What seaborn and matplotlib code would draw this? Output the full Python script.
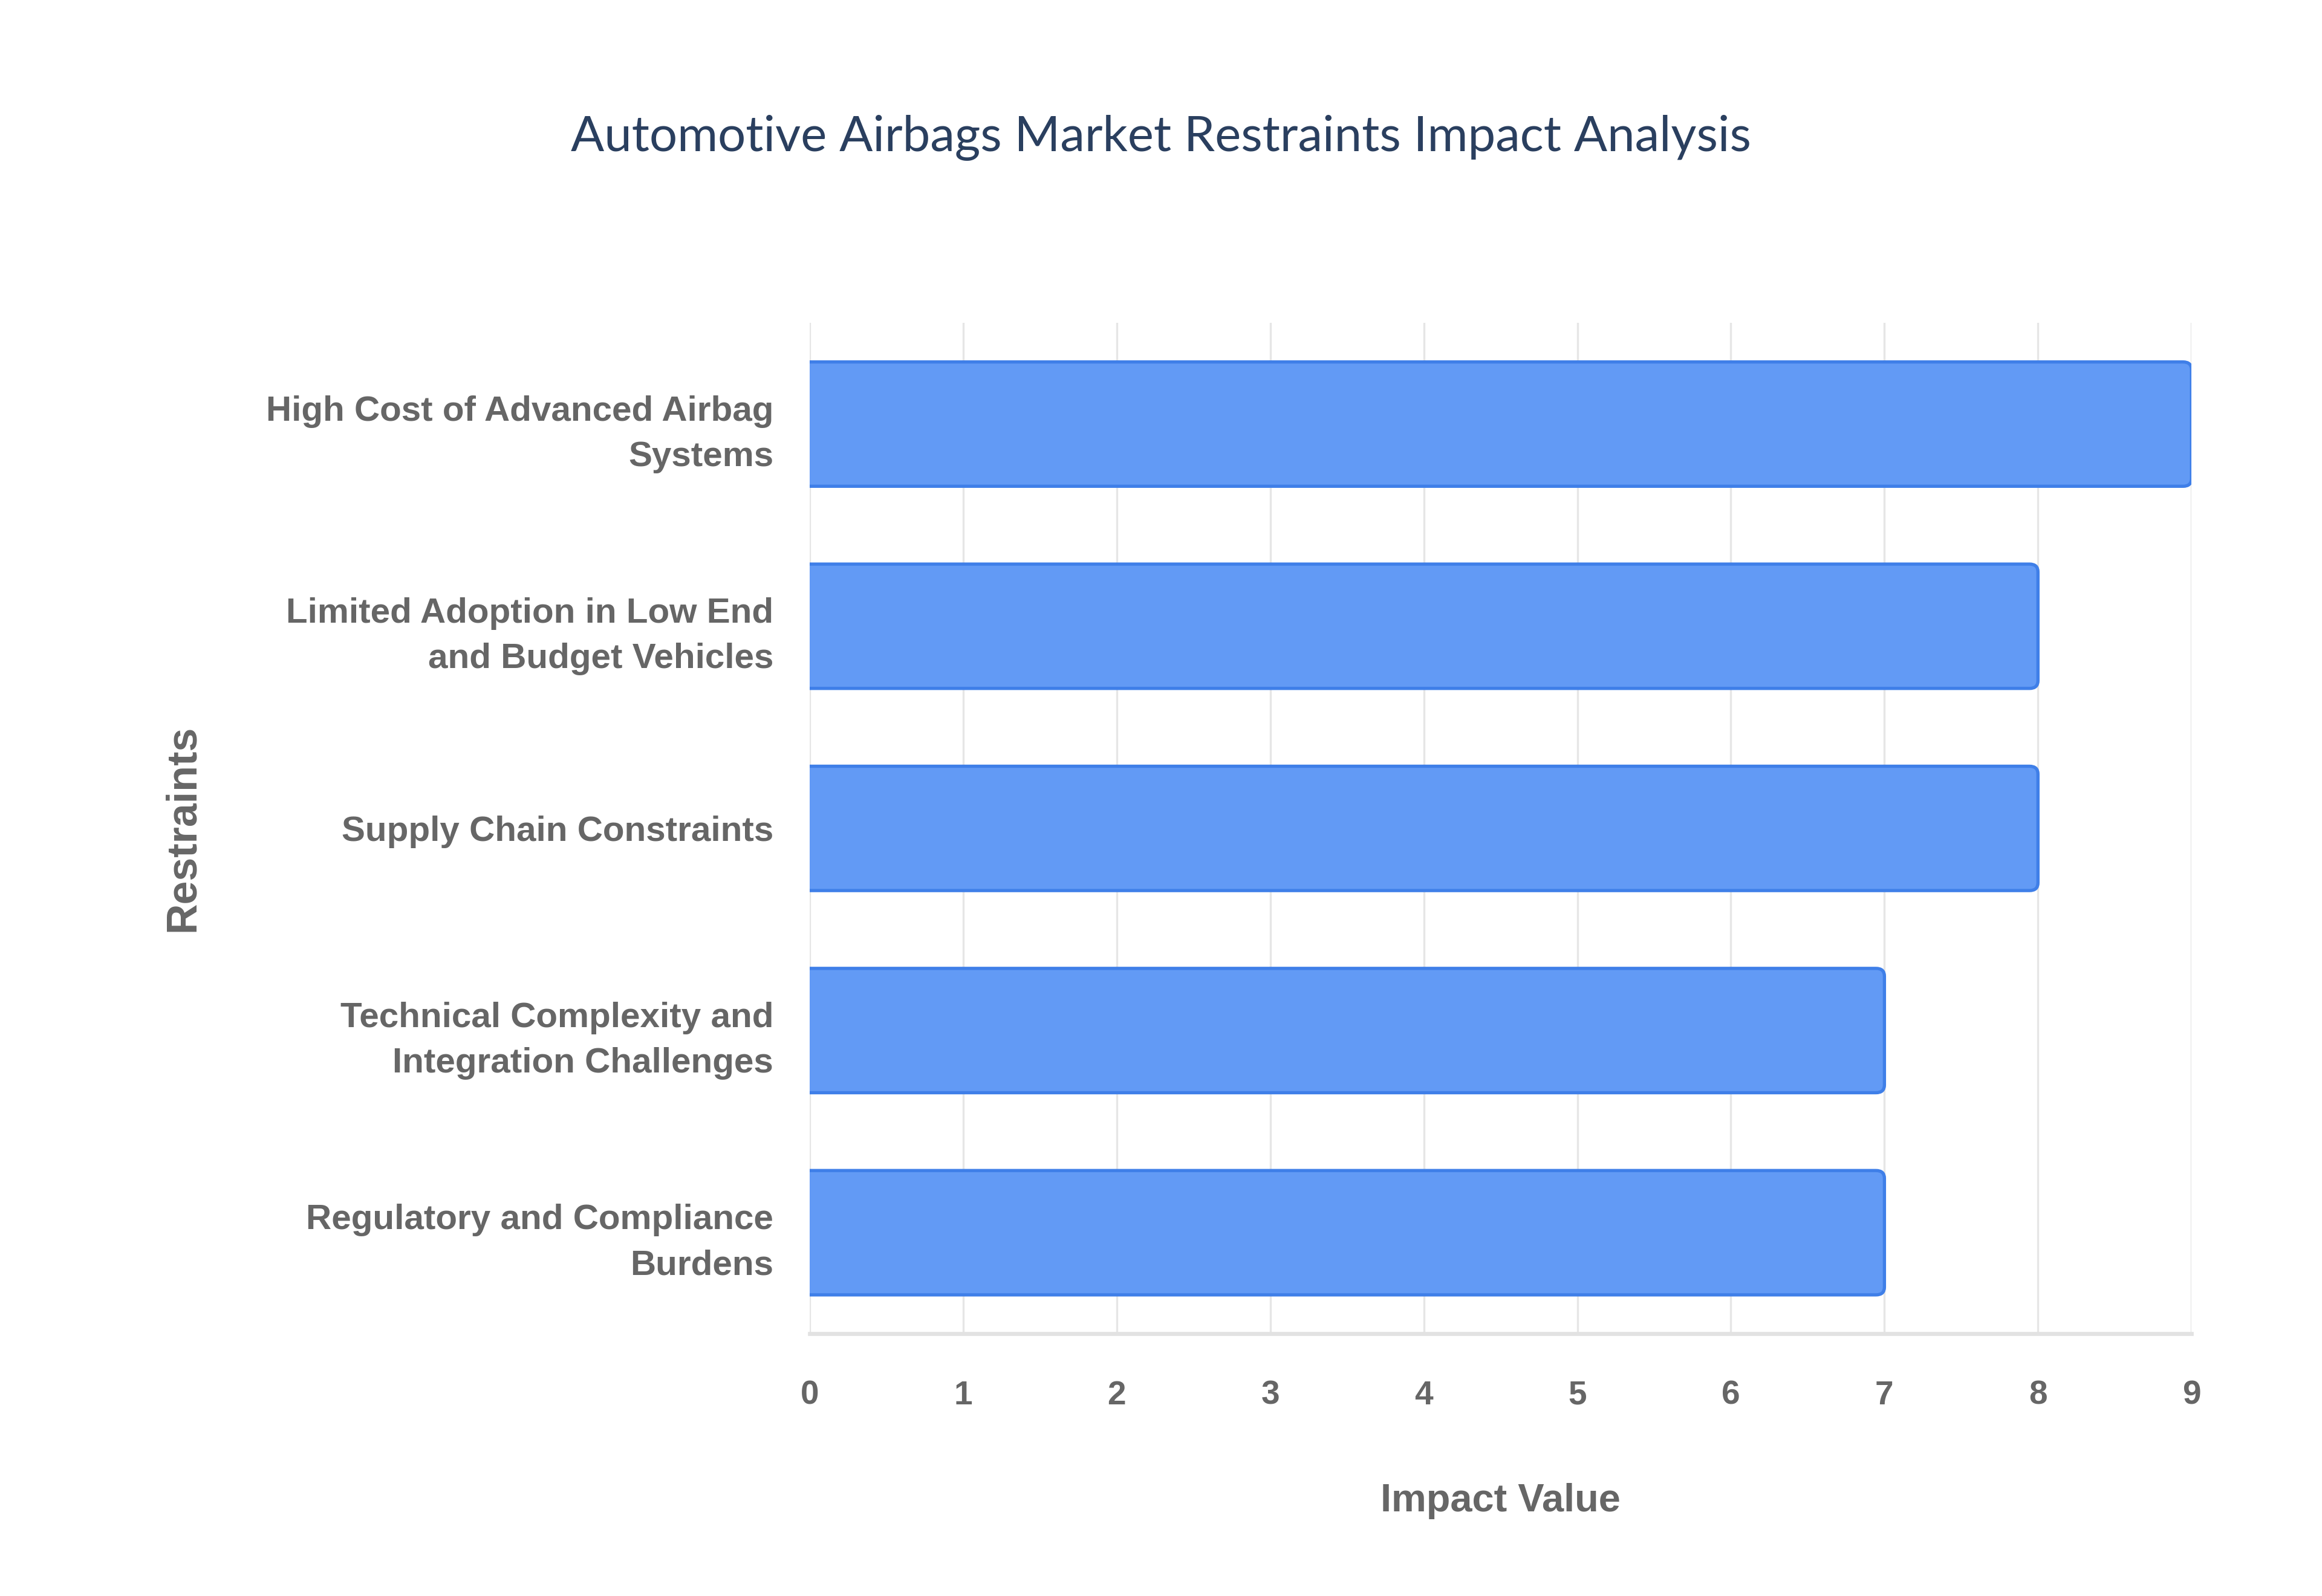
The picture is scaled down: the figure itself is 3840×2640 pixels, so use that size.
import matplotlib
matplotlib.use("Agg")
import matplotlib.pyplot as plt
from matplotlib.patches import FancyBboxPatch
import seaborn as sns
import pandas as pd

categories = [
    "High Cost of Advanced Airbag\nSystems",
    "Limited Adoption in Low End\nand Budget Vehicles",
    "Supply Chain Constraints",
    "Technical Complexity and\nIntegration Challenges",
    "Regulatory and Compliance\nBurdens",
]
values = [9, 8, 8, 7, 7]
x_ticks = [0, 1, 2, 3, 4, 5, 6, 7, 8, 9]

title = "Automotive Airbags Market Restraints Impact Analysis"
x_label = "Impact Value"
y_label = "Restraints"

df = pd.DataFrame({"Restraint": categories, "Impact": values})

sns.set_theme(style="white")
plt.rcParams["font.family"] = ["Liberation Sans", "DejaVu Sans"]

fig = plt.figure(figsize=(16, 11), dpi=240)
ax = fig.add_axes([0.3487, 0.1643, 0.9438 - 0.3487, 0.7976 - 0.1643])

sns.barplot(data=df, y="Restraint", x="Impact", orient="h", ax=ax,
            color="#629af5", width=0.615, saturation=1,
            edgecolor="#3f7fe8", linewidth=1.6, zorder=3)

# give the bars slightly rounded right-hand corners
r = 0.055
for p in list(ax.patches):
    x0, y0 = p.get_x(), p.get_y()
    w, h = p.get_width(), p.get_height()
    rb = FancyBboxPatch((x0 - r, y0), w + r, h,
                        boxstyle=f"round,pad=0,rounding_size={r}",
                        mutation_aspect=0.7,
                        facecolor=p.get_facecolor(), edgecolor=p.get_edgecolor(),
                        linewidth=1.6, zorder=3, clip_on=True)
    p.set_visible(False)
    ax.add_patch(rb)

ax.set_xlim(0, 9)
ax.set_ylim(4.5, -0.5)
ax.set_xticks(x_ticks)
ax.set_xticklabels([str(t) for t in x_ticks])

ax.grid(axis="x", color="#e6e6e6", linewidth=1.0, zorder=0)
ax.grid(axis="y", visible=False)
ax.set_axisbelow(True)

for s in ["top", "right", "left"]:
    ax.spines[s].set_visible(False)
ax.spines["bottom"].set_color("#e2e2e2")
ax.spines["bottom"].set_linewidth(2.0)

ax.tick_params(axis="x", length=15, width=1.0, color="#e6e6e6", pad=8,
               labelsize=16.5, labelcolor="#666666")
ax.tick_params(axis="y", length=0, pad=18, labelsize=17.5, labelcolor="#666666")
for lab in ax.get_xticklabels():
    lab.set_fontweight("bold")
for lab in ax.get_yticklabels():
    lab.set_fontweight("bold")
    lab.set_linespacing(1.5)

ax.set_xlabel("")
ax.set_ylabel("")
fig.text(0.5 * (0.3487 + 0.9438), 0.0594, x_label, ha="center", va="center",
         fontsize=19.5, fontweight="bold", color="#666666")
fig.text(0.079, 0.5 * (0.1643 + 0.7976), y_label, ha="center", va="center",
         rotation=90, fontsize=21, fontweight="bold", color="#666666")

fig.text(0.5, 0.9136, title, ha="center", va="center", fontsize=24.5,
         color="#2a3f5f", family=["Lato", "DejaVu Sans"])

fig.savefig("out.png", dpi=240, facecolor="white")
